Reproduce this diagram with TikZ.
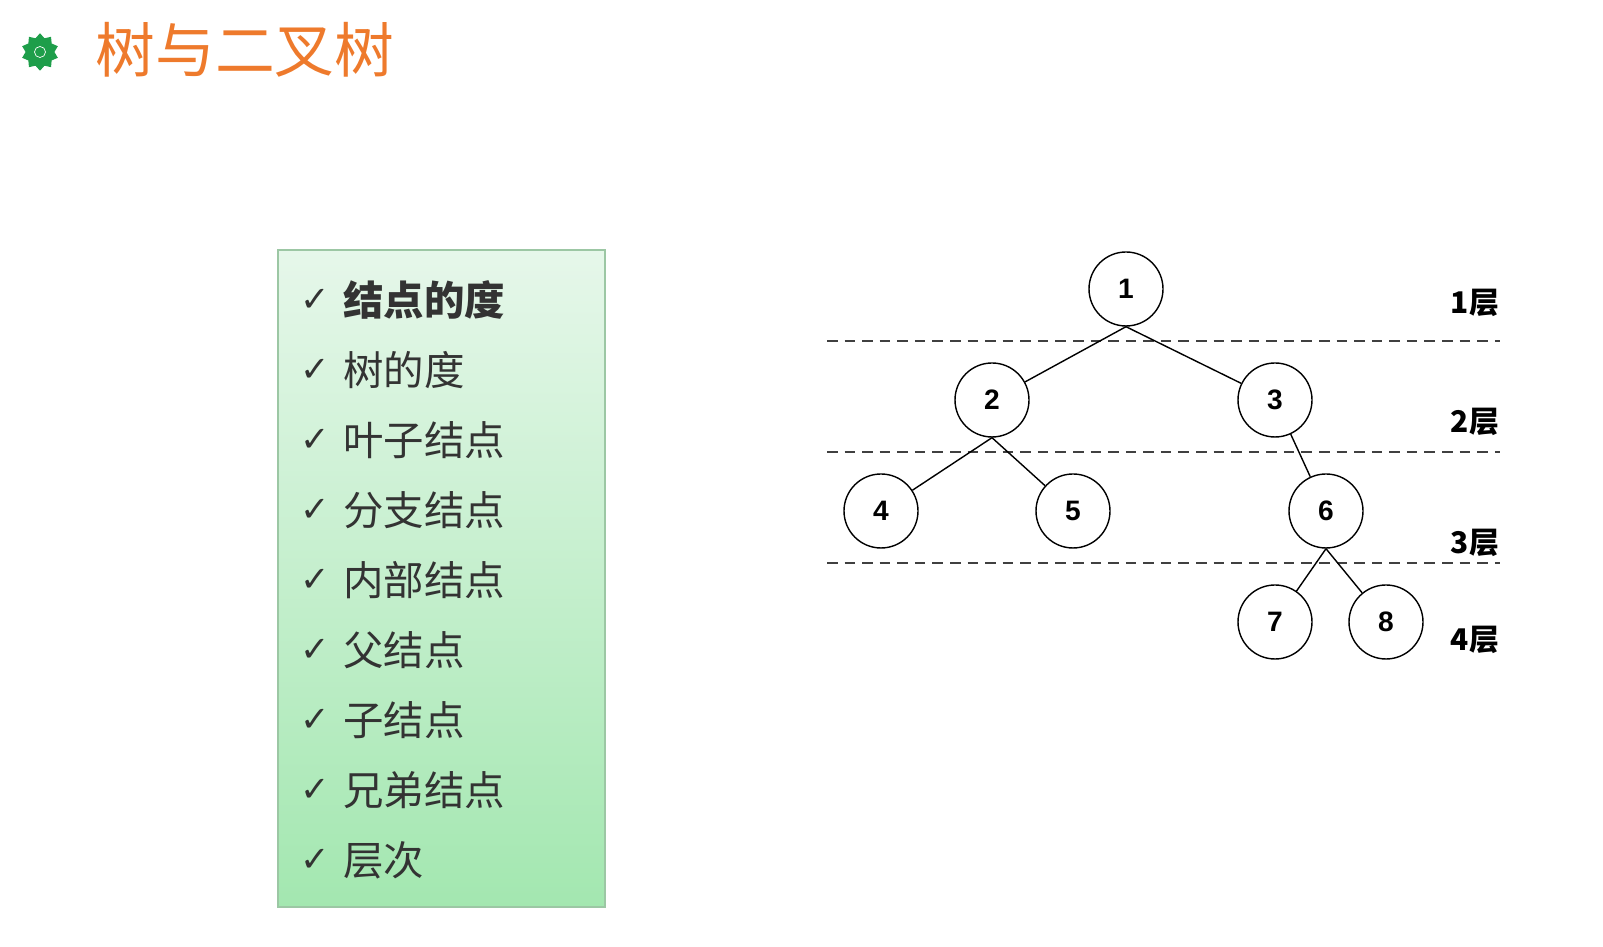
\documentclass[tikz,border=0pt]{standalone}
\usepackage{fontspec}
\setmainfont{Liberation Sans}
\newfontfamily\cjk{Noto Sans CJK SC}
\newfontfamily\sym{DejaVu Sans}
\usetikzlibrary{shapes.geometric}
\definecolor{titleorange}{HTML}{EE7A2C}
\definecolor{icongreen}{HTML}{1E9E4A}
\definecolor{boxtop}{HTML}{E6F7EA}
\definecolor{boxbot}{HTML}{A3E7B0}
\definecolor{boxline}{HTML}{9CC7A4}
\tikzset{
  tnode/.style={circle,draw,thick,minimum size=1.48cm,inner sep=0pt,font=\fontsize{16}{16}\selectfont\bfseries},
  item/.style={anchor=west,inner sep=0pt,font=\cjk\fontsize{23}{23}\selectfont,text=black!80},
  tick/.style={inner sep=0pt,font=\sym\fontsize{20}{20}\selectfont,text=black!80},
  level/.style={anchor=center,font=\fontsize{17}{17}\selectfont\bfseries\cjk},
  layer/.style={dashed,thick,black!75,dash pattern=on 6pt off 4pt}
}
\begin{document}
\begin{tikzpicture}
\useasboundingbox (0,0) rectangle (32.06,18.94);
% title
\node[star,star points=10,star point ratio=1.3,fill=icongreen,minimum size=0.75cm,inner sep=0pt] (icon) at (0.8,17.9) {};
\node[circle,draw=white,thin,minimum size=0.22cm,inner sep=0pt] at (icon) {};
\node[font=\cjk\fontsize{34}{34}\selectfont,text=titleorange] (title) at (4.9,17.94) {树与二叉树};
% box of terms
\shade[top color=boxtop,bottom color=boxbot,draw=boxline,thick] (5.56,0.8) rectangle (12.1,13.94);
\foreach \t [count=\i] in {{\bfseries 结点的度},树的度,叶子结点,分支结点,内部结点,父结点,子结点,兄弟结点,层次} {
  \node[tick] (ck\i) at (6.3,{(947-300-70*(\i-1))/50}) {✓};
  \node[item] (it\i) at (6.86,{(947-300-70*(\i-1))/50}) {\t};
}
% levels
\draw[layer] (16.54,12.12) coordinate (d1a) -- (30,12.12) coordinate (d1b);
\draw[layer] (16.54,9.9) coordinate (d2a) -- (30,9.9) coordinate (d2b);
\draw[layer] (16.54,7.68) coordinate (d3a) -- (30,7.68) coordinate (d3b);
\node[level] (L1) at (29.5,12.88) {1层};
\node[level] (L2) at (29.5,10.5) {2层};
\node[level] (L3) at (29.5,8.08) {3层};
\node[level] (L4) at (29.5,6.14) {4层};
% tree
\node[tnode] (n1) at (22.52,13.16) {1};
\node[tnode] (n2) at (19.84,10.94) {2};
\node[tnode] (n3) at (25.5,10.94) {3};
\node[tnode] (n4) at (17.62,8.72) {4};
\node[tnode] (n5) at (21.46,8.72) {5};
\node[tnode] (n6) at (26.52,8.72) {6};
\node[tnode] (n7) at (25.5,6.5) {7};
\node[tnode] (n8) at (27.72,6.5) {8};
\path[thick]
  (n1.south) edge (n2)
  (n1.south) edge (n3)
  (n2.south) edge (n4)
  (n2.south) edge (n5)
  (n3) edge (n6)
  (n6.south) edge (n7)
  (n6.south) edge (n8)
;
\end{tikzpicture}
\end{document}
